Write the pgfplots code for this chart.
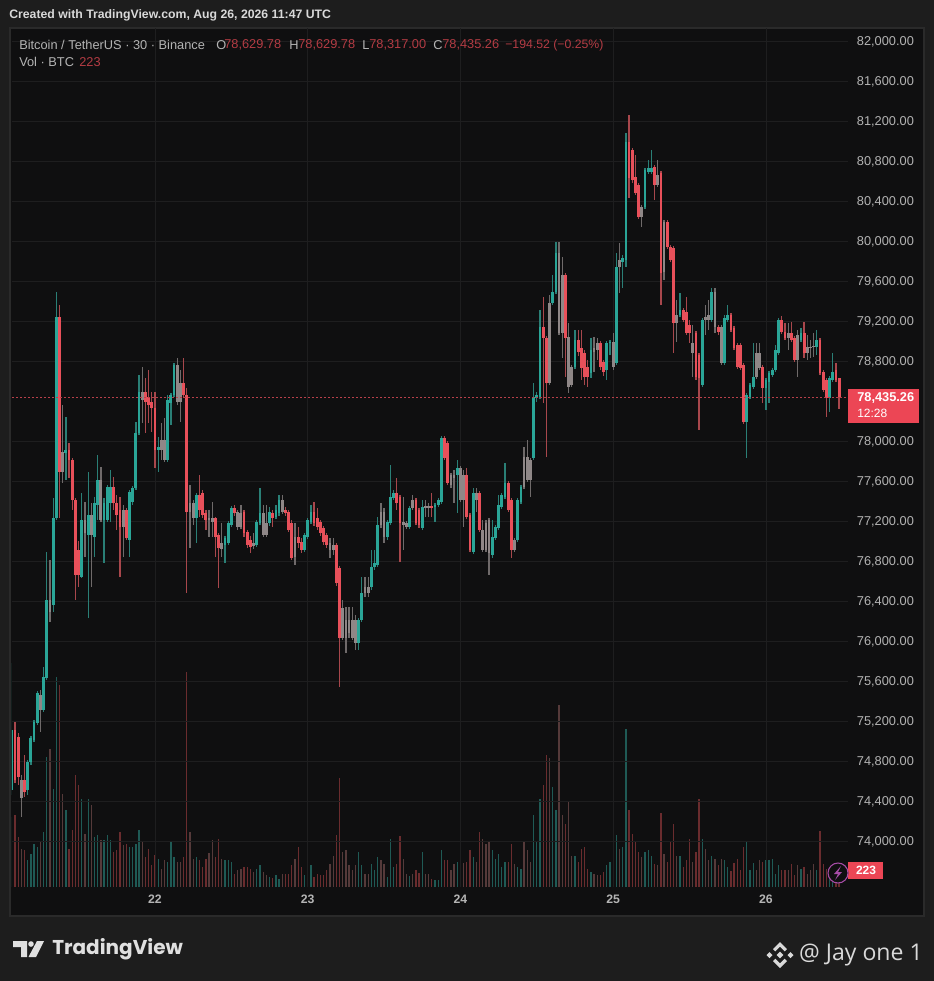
\documentclass[border=0pt]{standalone}
\usepackage{fontspec}
\setmainfont{Liberation Sans}
\newfontfamily\logofont{Poppins}
\newfontfamily\wmfont{Open Sans}
\usepackage{pgfplots}
\usepackage{pgfplotstable}
\pgfplotsset{compat=1.18}
\definecolor{outerbg}{HTML}{1D1D1D}
\definecolor{panelbg}{HTML}{0F0F10}
\definecolor{frame}{HTML}{2A2A2A}
\definecolor{gridc}{HTML}{1E1E1F}
\definecolor{upb}{HTML}{2AA597}
\definecolor{dnb}{HTML}{E8505A}
\definecolor{gyb}{HTML}{8F8787}
\definecolor{upw}{HTML}{2A7F76}
\definecolor{dnw}{HTML}{A8474C}
\definecolor{gyw}{HTML}{6F6A6A}
\definecolor{upv}{HTML}{1F5A55}
\definecolor{dnv}{HTML}{6A2C2E}
\definecolor{gyv}{HTML}{553A3A}
\definecolor{txt}{HTML}{B4B4B4}
\definecolor{legred}{HTML}{B43C44}
\definecolor{tag}{HTML}{EC4655}
\definecolor{pricel}{HTML}{B8404A}
% d: 1 = up candle, 2 = down candle, 3 = blurred (grey) candle
\pgfplotstableread{
i d o h l c v
0 1 74510 75780 74460 75110 70
1 2 75110 75190 74580 74610 72
2 2 75040 75080 74560 74640 50
3 3 74430 74660 74240 74610 38
4 2 74610 74860 74440 74490 37
5 1 74510 74810 74460 74790 27
6 1 74790 75050 74760 75030 33
7 1 75010 75210 74990 75190 43
8 1 75180 75500 75160 75480 40
9 3 75310 75510 75090 75460 45
10 1 75310 75740 75290 75640 55
11 1 75630 76890 75610 76410 130
12 3 76290 76810 76190 76410 138
13 1 76360 77430 76290 77230 98
14 1 77230 79490 77210 79240 210
15 2 79240 79360 77230 77690 202
16 3 77690 78360 77580 77890 93
17 1 77880 78240 77610 77910 77
18 2 77910 77980 77630 77810 38
19 2 77810 77830 77310 77410 57
20 2 77410 77430 76410 76660 112
21 2 76910 77000 76540 76660 102
22 1 76640 77480 76630 77210 88
23 3 77080 77390 76840 77210 53
24 1 77060 77690 76230 77260 88
25 3 77060 77380 76540 77260 82
26 1 77040 77440 76840 77380 50
27 1 77360 77860 77210 77610 52
28 3 77210 77740 77190 77610 47
29 1 77210 77430 76780 77380 47
30 1 77210 77560 77190 77540 52
31 1 77380 77710 77190 77540 47
32 2 77540 77640 77310 77380 35
33 2 77380 77460 77110 77260 37
34 2 77310 77440 76640 77140 55
35 3 77140 77360 76840 77310 42
36 2 77310 77330 77010 77030 43
37 1 77010 77510 76840 77490 40
38 1 77390 77550 77360 77530 40
39 1 77530 78190 77510 78080 43
40 1 78080 78660 78060 78490 57
41 3 78410 78740 78180 78490 45
42 2 78490 78630 78080 78390 30
43 2 78440 78710 78180 78360 38
44 2 78390 78490 78090 78330 22
45 2 78330 78490 77730 77910 32
46 1 77910 78040 77690 77940 28
47 3 77910 78180 77810 78010 18
48 3 77810 78230 77790 78010 27
49 1 77810 78460 77790 78410 25
50 1 78380 78480 78160 78460 45
51 1 78460 78780 78440 78760 30
52 3 78390 78830 78360 78760 25
53 3 78390 78710 78190 78580 25
54 2 78580 78830 78430 78460 30
55 2 78460 78530 76480 77290 215
56 3 77290 77560 76930 77380 55
57 3 77230 77410 77160 77380 28
58 1 77230 77480 76980 77460 30
59 2 77460 77660 77240 77310 27
60 2 77480 77510 77230 77260 20
61 2 77280 77310 77110 77210 28
62 3 77210 77310 77040 77230 34
63 3 77190 77390 77040 77230 47
64 2 77230 77240 76840 77040 30
65 2 77060 77080 76530 76930 48
66 3 76920 77180 76840 76980 28
67 1 76960 77050 76780 77030 27
68 1 76980 77200 76960 77180 27
69 1 77160 77350 77140 77330 25
70 2 77330 77360 77250 77280 13
71 3 77140 77310 77110 77290 17
72 3 77140 77360 77120 77280 18
73 2 77290 77310 77040 77080 20
74 2 77090 77110 76930 76960 20
75 2 77010 77050 76880 76940 18
76 3 76950 77080 76920 76980 15
77 1 76960 77210 76940 77190 18
78 1 77180 77530 77160 77280 22
79 3 77060 77360 77040 77280 15
80 3 77060 77360 77040 77180 12
81 1 77180 77340 77150 77290 10
82 2 77280 77310 77140 77230 9
83 1 77240 77360 77220 77310 12
84 1 77280 77460 77250 77410 8
85 3 77290 77460 77270 77410 13
86 2 77310 77340 77250 77280 13
87 2 77290 77310 77090 77110 13
88 2 77180 77210 76810 76830 22
89 3 76840 77180 76760 77040 28
90 2 77040 77140 76930 76980 40
91 2 76990 77030 76880 76910 20
92 1 76910 77080 76890 77060 12
93 1 77040 77230 77020 77210 15
94 1 77190 77360 77170 77290 22
95 2 77290 77390 77150 77180 10
96 2 77230 77330 77110 77140 13
97 2 77190 77210 77050 77080 12
98 2 77130 77150 76960 76990 12
99 2 77060 77080 76930 76960 17
100 3 76910 77030 76830 76980 23
101 3 76910 77030 76860 76960 31
102 2 76960 76980 76550 76580 52
103 2 76730 76750 75540 76030 109
104 3 76030 76410 76010 76330 35
105 3 76030 76340 75880 76210 37
106 3 76080 76340 76030 76210 22
107 3 76030 76340 76010 76210 17
108 3 75980 76260 75910 76210 22
109 1 75980 76230 75910 76210 35
110 1 76210 76640 76190 76480 22
111 3 76480 76640 76440 76540 13
112 3 76480 76640 76440 76540 13
113 1 76540 76910 76510 76740 23
114 1 76740 76910 76710 76780 17
115 1 76760 77240 76740 77160 30
116 3 77160 77380 77130 77290 27
117 3 77040 77330 76980 77290 23
118 1 77040 77210 77010 77190 10
119 1 77180 77760 77160 77440 48
120 1 77430 77510 77410 77480 20
121 2 77480 77630 77310 77380 23
122 2 77440 77460 76790 77180 51
123 3 77160 77440 76910 77190 28
124 3 77140 77200 77120 77180 13
125 1 77140 77350 77120 77330 11
126 3 77330 77460 77310 77410 13
127 2 77410 77430 77160 77180 17
128 2 77310 77330 77130 77160 14
129 1 77130 77410 77110 77340 35
130 3 77330 77410 77240 77350 13
131 3 77330 77380 77240 77350 13
132 2 77350 77480 77240 77330 8
133 1 77340 77380 77190 77360 7
134 1 77360 77430 77340 77410 7
135 1 77390 78050 77370 78030 37
136 2 78030 78050 77810 77830 27
137 2 77980 78000 77560 77580 27
138 3 77560 77680 77530 77660 17
139 3 77630 77710 77380 77660 23
140 1 77660 77810 77280 77730 25
141 3 77410 77750 77390 77730 23
142 3 77410 77710 77140 77660 24
143 2 77660 77730 77220 77240 25
144 2 77260 77280 76890 76910 37
145 1 76890 77530 76870 77480 30
146 3 77410 77530 77290 77480 25
147 2 77480 77500 77090 77110 55
148 3 76910 77210 76890 77110 48
149 3 76910 77210 76890 77180 43
150 3 76880 77230 76660 77210 45
151 1 76860 77210 76830 77040 37
152 1 77030 77160 77010 77140 28
153 1 77130 77460 77110 77360 33
154 1 77340 77480 77320 77460 20
155 1 77440 77780 77420 77580 25
156 2 77580 77600 77290 77310 25
157 2 77410 77430 76830 76910 43
158 3 76910 77030 76890 77010 23
159 1 77010 77430 76990 77410 20
160 1 77390 77560 77370 77540 18
161 3 77540 77940 77520 77840 45
162 3 77610 78010 77590 77840 37
163 3 77610 77830 77440 77810 25
164 1 77830 78580 77810 78440 72
165 1 78430 78490 78390 78460 45
166 1 78440 79310 78420 79140 88
167 2 79140 79440 78380 79030 102
168 2 79030 79050 77840 78580 132
169 3 78580 79460 78560 79380 129
170 1 79380 79660 79360 79490 100
171 1 79490 79990 79470 79880 77
172 3 79080 79990 79060 79880 182
173 3 79080 79840 78830 79660 72
174 2 79660 79680 78640 79030 63
175 3 78540 79180 78480 79040 85
176 3 78560 78760 78540 78740 31
177 1 78740 79110 78720 79010 31
178 2 79010 79110 78850 78890 25
179 2 78930 79110 78610 78730 38
180 2 78880 78910 78560 78640 40
181 2 78740 78810 78540 78640 18
182 1 78680 79030 78630 78910 15
183 3 78890 79040 78690 78930 13
184 3 78910 79030 78810 78980 12
185 2 78980 79000 78710 78740 12
186 2 78790 78810 78650 78690 15
187 1 78710 79000 78610 78980 22
188 1 78980 79010 78860 78990 25
189 3 78740 79080 78710 78990 31
190 1 78780 79880 78760 79740 52
191 3 79740 79980 79480 79810 38
192 1 79790 79860 79530 79830 40
193 1 79810 81080 79740 80990 158
194 2 80990 81260 80430 80630 77
195 2 80910 80930 80580 80610 53
196 2 80640 80860 80460 80480 45
197 2 80560 80580 80220 80240 35
198 3 80240 80360 80140 80340 30
199 1 80340 80730 80320 80710 35
200 1 80690 80810 80670 80730 37
201 1 80690 80910 80670 80730 31
202 2 80740 80760 80410 80560 23
203 3 80560 80810 80540 80660 22
204 2 80680 80700 79360 79680 74
205 3 79690 80210 79610 80190 33
206 2 80190 80210 79920 79940 25
207 2 79940 79960 79790 79810 45
208 2 79930 79950 78880 79180 63
209 3 79180 79410 78990 79260 31
210 1 79260 79480 79240 79310 31
211 2 79310 79330 79190 79210 20
212 2 79290 79440 79060 79080 27
213 2 79160 79210 78980 79080 48
214 3 78880 79160 78640 78980 25
215 2 79080 79100 78610 78640 35
216 2 78860 78880 78110 78630 88
217 1 78560 79230 78540 79210 48
218 3 79210 79360 79060 79240 38
219 3 79210 79410 79110 79260 27
220 1 79210 79530 79190 79490 31
221 3 79140 79530 79080 79490 28
222 2 79140 79160 79060 79090 22
223 3 78780 79160 78760 79140 28
224 1 78780 79260 78760 79230 27
225 1 79210 79360 79190 79260 20
226 2 79260 79280 79090 79110 16
227 2 79130 79150 78910 78930 24
228 2 78960 78980 78720 78740 28
229 2 78960 78980 78710 78730 17
230 2 78760 78780 78170 78190 40
231 1 78190 78480 77830 78460 45
232 1 78440 78580 78420 78560 17
233 1 78540 78980 78520 78640 24
234 3 78640 78980 78620 78880 17
235 3 78730 78980 78710 78880 27
236 2 78740 78760 78380 78530 25
237 1 78530 78630 78310 78610 27
238 1 78590 78700 78380 78680 27
239 1 78660 78730 78640 78710 28
240 1 78710 78960 78690 78910 13
241 1 78880 79230 78860 79210 22
242 2 79210 79250 79070 79090 17
243 2 79090 79180 79010 79030 17
244 3 79030 79180 78910 79080 17
245 2 79080 79190 78990 79010 23
246 2 79030 79050 78790 78810 12
247 3 78810 79110 78640 79060 22
248 1 79010 79130 78990 79080 18
249 2 79080 79190 78830 78880 20
250 3 78880 79060 78810 78940 13
251 3 78930 79010 78830 78940 17
252 3 78940 79080 78840 78950 23
253 1 78940 79110 78860 79010 17
254 2 79010 79030 78660 78680 56
255 2 78690 78710 78490 78510 23
256 2 78610 78630 78240 78430 18
257 1 78430 78650 78290 78630 10
258 1 78610 78880 78590 78690 10
259 2 78710 78780 78590 78610 10
260 2 78629.78 78629.78 78317 78435.26 17
}\candles
\pgfplotsset{
  only kind/.style={x filter/.expression={\thisrow{d}==#1 ? x : nan}}
}
\newcommand\wicks[2]{%
  \addplot[draw=none,forget plot,only kind=#1,
    error bars/.cd,y dir=both,y explicit,error mark=none,
    error bar style={color=#2,line width=0.95pt}]
  table[x=i,y=c,y error plus expr=\thisrow{h}-\thisrow{c},y error minus expr=\thisrow{c}-\thisrow{l}]{\candles};}
\newcommand\bodiesup[2]{%
  \addplot[draw=none,forget plot,only kind=#1,
    error bars/.cd,y dir=minus,y explicit,error mark=none,
    error bar style={color=#2,line width=2.1pt}]
  table[x=i,y=c,y error minus expr=\thisrow{c}-\thisrow{o}]{\candles};}
\newcommand\bodiesdn[2]{%
  \addplot[draw=none,forget plot,only kind=#1,
    error bars/.cd,y dir=plus,y explicit,error mark=none,
    error bar style={color=#2,line width=2.1pt}]
  table[x=i,y=c,y error plus expr=\thisrow{o}-\thisrow{c}]{\candles};}
\newcommand\vols[2]{%
  \addplot[ycomb,forget plot,color=#2,line width=0.95pt,only kind=#1]
  table[x=i,y=v]{\candles};}
\begin{document}
\begin{tikzpicture}
\begin{scope}[x=0.75pt,y=-0.75pt]
  \fill[outerbg] (0,0) rectangle (934,981);
  \fill[panelbg] (10,28) rectangle (924,916);
  \draw[frame,line width=0.9pt] (10,28) rectangle (924,916);
\end{scope}
% volume pane
\begin{axis}[at={(8.85pt,-665.25pt)},anchor=south west,scale only axis,
  width=627.15pt,height=644.25pt,xmin=0,xmax=262.8,ymin=0,ymax=859,
  axis line style={draw=none},xtick=\empty,ytick=\empty]
  \vols{1}{upv}
  \vols{2}{dnv}
  \vols{3}{gyv}
\end{axis}
% price pane
\begin{axis}[at={(8.85pt,-665.25pt)},anchor=south west,scale only axis,
  width=627.15pt,height=644.25pt,xmin=0,xmax=262.8,ymin=73540,ymax=82130,
  axis line style={draw=none},major tick length=0pt,
  xtick={45,93,141,189,237},xticklabels={22,23,24,25,26},
  ytick={74000,74400,74800,75200,75600,76000,76400,76800,77200,77600,78000,78800,79200,79600,80000,80400,80800,81200,81600,82000},
  yticklabel pos=right,scaled y ticks=false,
  grid=major,grid style={color=gridc,line width=0.6pt},
  xticklabel style={font=\fontsize{9.2}{11}\selectfont\bfseries,text=txt,inner sep=0pt,yshift=-6pt},
  yticklabel style={font=\fontsize{9.6}{11}\selectfont,text=txt,anchor=west,inner sep=0pt,xshift=6.5pt,yshift=-0.5pt,
    /pgf/number format/fixed,/pgf/number format/fixed zerofill,/pgf/number format/precision=2,
    /pgf/number format/1000 sep={,},/pgf/number format/assume math mode=true},
  ]
  \wicks{1}{upw}
  \wicks{2}{dnw}
  \wicks{3}{gyw}
  \bodiesup{1}{upb}
  \bodiesdn{2}{dnb}
  \bodiesup{3}{gyb}
  \addplot[forget plot,color=pricel,line width=0.75pt,dash pattern=on 1.5pt off 1.5pt]
    coordinates {(0,78435.26)(262.8,78435.26)};
\end{axis}
\begin{scope}[x=0.75pt,y=-0.75pt]
  % header
  \node[anchor=west,inner sep=0pt,text=white!85!black,font=\fontsize{9.2}{11}\selectfont\bfseries] at (9,15)
    {Created with TradingView.com, Aug 26, 2026 11:47 UTC};
  \begin{scope}[every node/.style={anchor=west,inner sep=0pt,font=\fontsize{9.6}{11}\selectfont}]
    \node[text=txt] at (19,45) {Bitcoin / TetherUS · 30 · Binance};
    \node[text=txt] at (216,45) {O};
    \node[text=legred] at (224,45) {78,629.78};
    \node[text=txt] at (289,45) {H};
    \node[text=legred] at (298,45) {78,629.78};
    \node[text=txt] at (362,45) {L};
    \node[text=legred] at (369,45) {78,317.00};
    \node[text=txt] at (433,45) {C};
    \node[text=legred] at (442,45) {78,435.26};
    \node[text=legred,font=\fontsize{9.2}{11}\selectfont] at (505,45) {−194.52 (−0.25\%)};
    \node[text=txt] at (19,62) {Vol · BTC};
    \node[text=legred] at (79,62) {223};
  \end{scope}
  % price tag
  \fill[tag] (848,389) rectangle (919,423);
  \node[anchor=west,inner sep=0pt,text=white,font=\fontsize{9.6}{11}\selectfont\bfseries] at (857,398) {78,435.26};
  \node[anchor=west,inner sep=0pt,text=white,font=\fontsize{9}{11}\selectfont] at (857,413) {12:28};
  % volume tag
  \fill[tag] (848,862) rectangle (883,879);
  \node[inner sep=0pt,text=white,font=\fontsize{9}{11}\selectfont\bfseries] at (866,870.5) {223};
  % lightning icon
  \fill[panelbg] (838,873) circle (10.5);
  \draw[color=violet!70!white,line width=0.8pt] (838,873) circle (10);
  \fill[color=violet!70!white] (841,866) -- (834,874) -- (838,874) -- (835,880) -- (842,872) -- (838,872) -- cycle;
  % TradingView logo
  \fill[white!88!black] (13,941) -- (27,941) -- (27,957) -- (21,957) -- (21,947) -- (13,947) -- cycle;
  \fill[white!88!black] (31,944) circle (2.8);
  \fill[white!88!black] (37,941) -- (44,941) -- (36,957) -- (28.5,957) -- cycle;
  \node[anchor=west,inner sep=0pt,text=white!88!black,font=\logofont\fontsize{15}{18}\selectfont\bfseries] at (52,949) {TradingView};
  % Binance mark + handle
  \begin{scope}[shift={(780,955)},color=white!85!black]
    \fill (0,-3.4) -- (3.4,0) -- (0,3.4) -- (-3.4,0) -- cycle;
    \fill (-10.5,-3) -- (-7.5,0) -- (-10.5,3) -- (-13.5,0) -- cycle;
    \fill (10.5,-3) -- (13.5,0) -- (10.5,3) -- (7.5,0) -- cycle;
    \fill (0,-13) -- (7,-6) -- (4.7,-3.7) -- (0,-8.4) -- (-4.7,-3.7) -- (-7,-6) -- cycle;
    \fill (0,13) -- (7,6) -- (4.7,3.7) -- (0,8.4) -- (-4.7,3.7) -- (-7,6) -- cycle;
  \end{scope}
  \node[anchor=east,inner sep=0pt,text=white!85!black,font=\wmfont\fontsize{17.3}{20}\selectfont] at (923,955) {@ Jay one 1};
\end{scope}
\end{tikzpicture}
\end{document}
